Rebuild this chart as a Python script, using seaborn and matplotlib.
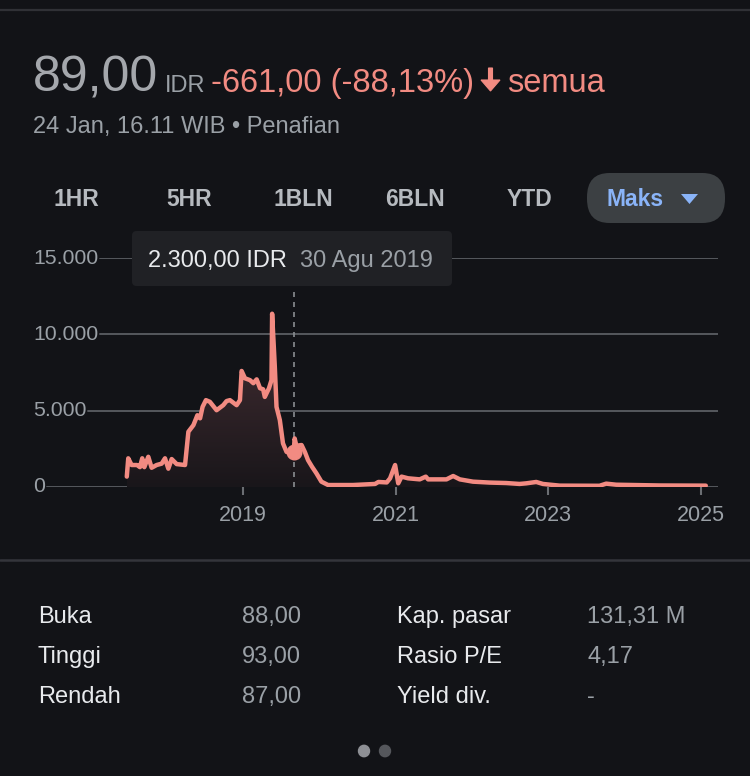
import numpy as np
import pandas as pd
import matplotlib
matplotlib.use("Agg")
import matplotlib.pyplot as plt
import matplotlib.dates as mdates
import matplotlib.transforms as mtransforms
from matplotlib.patches import FancyBboxPatch, Circle, Polygon
from matplotlib.lines import Line2D
from matplotlib.colors import LinearSegmentedColormap
import seaborn as sns

# data (IDR, daily close, approx.)
dates = [
    "2017-06-22", "2017-06-29", "2017-07-15", "2017-08-10", "2017-08-24", "2017-09-04",
    "2017-09-14", "2017-10-03", "2017-10-19", "2017-11-12", "2017-12-06", "2017-12-22",
    "2018-01-07", "2018-01-23", "2018-02-16", "2018-03-28", "2018-04-13", "2018-05-07",
    "2018-05-26", "2018-06-08", "2018-06-20", "2018-07-06", "2018-07-25", "2018-08-26",
    "2018-09-27", "2018-10-13", "2018-10-29", "2018-11-30", "2018-12-16", "2018-12-24",
    "2019-01-09", "2019-02-02", "2019-02-18", "2019-03-06", "2019-03-22", "2019-04-06",
    "2019-04-14", "2019-05-04", "2019-05-16", "2019-05-19", "2019-06-01", "2019-06-09",
    "2019-06-25", "2019-07-10", "2019-07-27", "2019-08-15", "2019-08-30", "2019-09-04",
    "2019-09-12", "2019-10-07", "2019-10-23", "2019-11-07", "2019-11-26", "2019-12-17",
    "2020-01-10", "2020-02-11", "2020-06-09", "2020-09-23", "2020-10-09", "2020-11-18",
    "2020-12-04", "2020-12-28", "2021-01-12", "2021-01-28", "2021-02-28", "2021-04-25",
    "2021-05-24", "2021-06-04", "2021-08-31", "2021-10-02", "2021-11-03", "2022-01-05",
    "2022-03-25", "2022-06-13", "2022-08-16", "2022-09-17", "2022-11-04", "2022-12-06",
    "2023-02-24", "2023-09-03", "2023-10-05", "2023-11-22", "2024-06-17", "2025-01-03",
    "2025-01-24",
]
prices = [
    680, 1880, 1440, 1440, 1300, 1880,
    1300, 1980, 1260, 1440, 1530, 1880,
    1200, 1830, 1500, 1440, 3620, 4050,
    4700, 4500, 5250, 5690, 5580, 5030,
    5360, 5630, 5690, 5360, 5690, 7600,
    7120, 7000, 6800, 7050, 6470, 6400,
    5900, 6470, 7000, 11350, 7860, 5250,
    4380, 2860, 2300, 2250, 2300, 3180,
    2700, 2750, 2290, 1760, 1330, 900,
    350, 130, 130, 200, 330, 300,
    570, 1440, 240, 680, 570, 500,
    680, 500, 500, 720, 500, 350,
    290, 260, 200, 240, 330, 200,
    90, 80, 220, 150, 100, 90,
    89,
]

yticks = [0, 5000, 10000, 15000]
xtick_years = [2019, 2021, 2023, 2025]

hover_date = "2019-08-30"
hover_price = 2300.00
hover_label = "30 Agu 2019"

last_price = "89,00"
change = "-661,00 (-88,13%)"
stamp = "24 Jan, 16.11 WIB \u2022 Penafian"
ranges = ["1HR", "5HR", "1BLN", "6BLN", "YTD"]
stats_left = [("Buka", "88,00"), ("Tinggi", "93,00"), ("Rendah", "87,00")]
stats_right = [("Kap. pasar", "131,31 M"), ("Rasio P/E", "4,17"), ("Yield div.", "-")]

BG = "#121317"
RED = "#f28b82"
GRAY = "#9aa0a6"
LIGHT = "#e8eaed"
GRID = "#55585d"
BLUE = "#8ab4f8"

df = pd.DataFrame({"date": pd.to_datetime(dates), "price": prices})

W, H = 750, 776
sns.set_theme(style="dark", rc={"axes.facecolor": BG, "figure.facecolor": BG})
plt.rcParams["font.family"] = ["Liberation Sans", "DejaVu Sans"]


def fx(x):
    return x / W


def fy(y):
    return 1 - y / H


fig = plt.figure(figsize=(W / 100, H / 100), dpi=100, facecolor=BG)

# separators
fig.add_artist(Line2D([0, 1], [fy(10), fy(10)], transform=fig.transFigure, color="#303136", lw=1.6))
fig.add_artist(Line2D([0, 1], [fy(560), fy(560)], transform=fig.transFigure, color="#34353b", lw=1.8))

# header
fig.text(fx(33), fy(92), last_price, fontsize=36, color="#a4a7ac", va="baseline")
fig.text(fx(165), fy(92), "IDR", fontsize=17, color=GRAY, va="baseline")
fig.text(fx(211), fy(92), change, fontsize=23.5, color=RED, va="baseline")
arrow_px = [(488.5, 68), (492.5, 68), (492.5, 80), (500, 80), (490.5, 91),
            (481, 80), (488.5, 80)]
fig.add_artist(Polygon([(fx(x), fy(y)) for x, y in arrow_px], closed=True,
                       transform=fig.transFigure, facecolor=RED, edgecolor=RED, lw=0.8))
fig.text(fx(507), fy(92), "semua", fontsize=23.5, color=RED, va="baseline")
fig.text(fx(33), fy(133), stamp, fontsize=17, color=GRAY, va="baseline")

# range buttons
btn_x = [76, 189, 303, 415, 529]
for lab, x in zip(ranges, btn_x):
    fig.text(fx(x), fy(199), lab, fontsize=16.5, color="#b6babf", ha="center", va="center",
             fontweight="bold")
fig.add_artist(FancyBboxPatch((fx(587), fy(223)), fx(725) - fx(587), (223 - 173) / H,
                              boxstyle="round,pad=0,rounding_size=0.03", transform=fig.transFigure,
                              facecolor="#3c4043", edgecolor="none", mutation_aspect=H / W))
fig.text(fx(635), fy(199), "Maks", fontsize=16.5, color=BLUE, ha="center", va="center", fontweight="bold")
tri_px = [(681, 194), (698, 194), (689.5, 204)]
fig.add_artist(Polygon([(fx(x), fy(y)) for x, y in tri_px], closed=True,
                       transform=fig.transFigure, facecolor=BLUE, edgecolor="none"))

# chart
ax = fig.add_axes([fx(33), fy(487), fx(718) - fx(33), (487 - 258) / H])
ax.set_facecolor(BG)
sns.lineplot(data=df, x="date", y="price", color=RED, linewidth=3.2, ax=ax, zorder=4,
             solid_joinstyle="round", solid_capstyle="round")

xnum = mdates.date2num(df["date"])
poly = ax.fill_between(xnum, df["price"], 0, color="none", lw=0)
grad = np.linspace(0, 1, 256).reshape(-1, 1)
cmap = LinearSegmentedColormap.from_list("fade", ["#19161a", "#462f34"])
im = ax.imshow(grad, aspect="auto", cmap=cmap, origin="lower",
               extent=[xnum[0], xnum[-1], 0, 11000], zorder=1)
im.set_clip_path(poly.get_paths()[0], transform=ax.transData)

t2019 = mdates.date2num(pd.Timestamp("2019-01-01"))
t2025 = mdates.date2num(pd.Timestamp("2025-01-01"))
ppd = (701 - 243.3) / (t2025 - t2019)
ax.set_xlim(t2019 - (243.3 - 33) / ppd, t2019 + (718 - 243.3) / ppd)
ax.set_ylim(0, 15000)
ax.set_aspect("auto")
ax.grid(False)
for s in ax.spines.values():
    s.set_visible(False)
ax.set_xlabel("")
ax.set_ylabel("")
ax.set_yticks([])

xt = mdates.date2num(pd.to_datetime([f"{y}-01-01" for y in xtick_years]))
ax.set_xticks(xt)
ax.set_xticklabels([str(y) for y in xtick_years])
ax.tick_params(axis="x", bottom=True, length=5.8, width=1.5, color="#6b6e73", labelcolor=GRAY,
               labelsize=15.5, pad=7, direction="out")

# y labels with gridlines starting right after the text
trans = mtransforms.blended_transform_factory(ax.transAxes, ax.transData)
ylabs = []
for v in yticks:
    lab = f"{v:,}".replace(",", ".")
    ylabs.append(ax.text(0, v, lab, transform=trans, ha="left", va="center", fontsize=15.3, color=GRAY))
fig.canvas.draw()
r = fig.canvas.get_renderer()
axbb = ax.get_window_extent(r)
for t, v in zip(ylabs, yticks):
    bb = t.get_window_extent(r)
    xmin = (bb.x1 + 2 - axbb.x0) / axbb.width
    ax.axhline(v, xmin=xmin, xmax=1, color=GRID, lw=1.4, zorder=0.5)

# hover marker
hx = mdates.date2num(pd.Timestamp(hover_date))
ax.axvline(hx, ymin=0, ymax=13000 / 15000, color="#8a8d91", lw=1.2, ls=(0, (3, 3)), zorder=3)
ax.plot([hx], [hover_price], "o", ms=10.5, color=RED, zorder=5)

# tooltip
fig.add_artist(FancyBboxPatch((fx(132), fy(286)), fx(452) - fx(132), (286 - 231) / H,
                              boxstyle="round,pad=0,rounding_size=0.006", transform=fig.transFigure,
                              facecolor="#202125", edgecolor="none", zorder=6))
price_txt = f"{hover_price:,.2f}".replace(",", " ").replace(".", ",").replace(" ", ".")
fig.text(fx(148), fy(267), f"{price_txt} IDR", fontsize=17, color=LIGHT, va="baseline", zorder=7)
fig.text(fx(300), fy(267), hover_label, fontsize=17, color=GRAY, va="baseline", zorder=7)

# stats
rows_y = [623, 663, 703]
for (lab, val), y in zip(stats_left, rows_y):
    fig.text(fx(38), fy(y), lab, fontsize=17, color=LIGHT, va="baseline")
    fig.text(fx(242), fy(y), val, fontsize=17, color=GRAY, va="baseline")
for (lab, val), y in zip(stats_right, rows_y):
    fig.text(fx(397), fy(y), lab, fontsize=17, color=LIGHT, va="baseline")
    fig.text(fx(587), fy(y), val, fontsize=17, color=GRAY, va="baseline")

# page dots
fig.add_artist(Circle((fx(364), fy(751)), 5.5 / W, transform=fig.transFigure, color="#8e9095"))
fig.add_artist(Circle((fx(385), fy(751)), 5.5 / W, transform=fig.transFigure, color="#55575c"))

fig.savefig("out.png", dpi=100, facecolor=BG)
